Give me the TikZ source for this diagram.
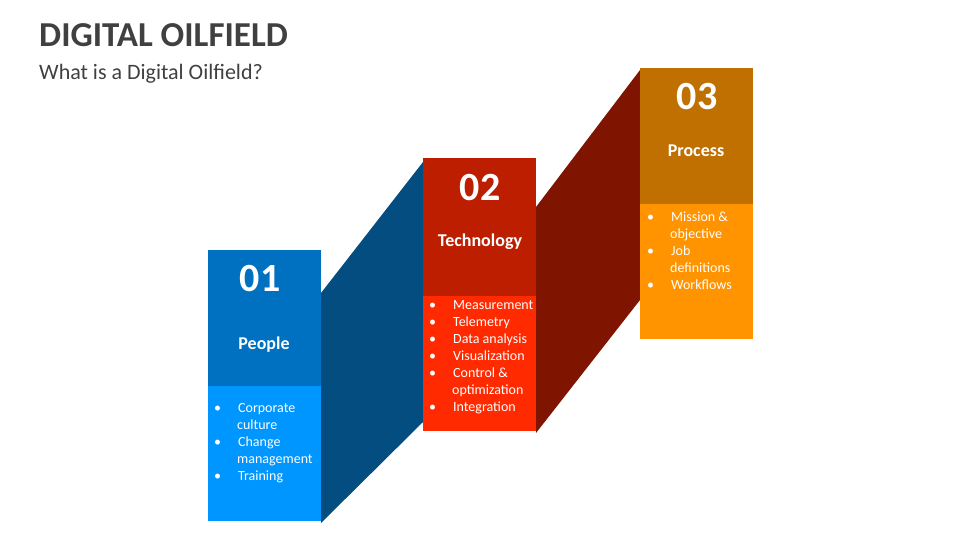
\documentclass[tikz,border=0pt]{standalone}
\usepackage{fontspec}
\setmainfont{Carlito}
\begin{document}
\begin{tikzpicture}[x=1pt,y=-1pt,
  num/.style={text=white,font=\fontsize{40}{40}\selectfont\bfseries},
  lab/.style={text=white,font=\fontsize{18}{18}\selectfont\bfseries},
  bl/.style={text=white,anchor=west,font=\fontsize{14}{17}\selectfont,align=left,inner sep=0pt}]
\useasboundingbox (0,0) rectangle (960,540);
\definecolor{bA}{RGB}{0,112,192}\definecolor{bB}{RGB}{0,150,255}\definecolor{bP}{RGB}{3,77,128}
\definecolor{rA}{RGB}{190,30,0}\definecolor{rB}{RGB}{255,42,0}\definecolor{rP}{RGB}{127,21,0}
\definecolor{oA}{RGB}{191,112,0}\definecolor{oB}{RGB}{255,147,0}
\definecolor{tg}{RGB}{64,64,64}
\node[anchor=west,text=tg,font=\fontsize{35}{35}\selectfont\bfseries,inner sep=0pt] (title) at (39,35) {DIGITAL OILFIELD};
\node[anchor=west,text=tg,font=\fontsize{22}{22}\selectfont,inner sep=0pt] (sub) at (39,74) {What is a Digital Oilfield?};
\fill[bP] (321,293) -- (423,162) -- (423,422) -- (321,523) -- cycle;
\fill[rP] (536,207) -- (640,70) -- (640,300) -- (536,433) -- cycle;
\fill[bA] (208,250) rectangle (321,386);
\fill[bB] (208,386) rectangle (321,521);
\fill[rA] (423,158) rectangle (536,296);
\fill[rB] (423,296) rectangle (536,431);
\fill[oA] (640,68) rectangle (753,204);
\fill[oB] (640,204) rectangle (753,339);
\node[num] (n1) at (260,279) {01};
\node[lab] (l1) at (264,345) {People};
\node[num] (n2) at (480,188) {02};
\node[lab] (l2) at (480,242) {Technology};
\node[num] (n3) at (697,97) {03};
\node[lab] (l3) at (696,151) {Process};
\node[bl] (b1) at (214,443) {\textbullet\hspace{17pt}Corporate\\\hspace{23pt}culture\\\textbullet\hspace{17pt}Change\\\hspace{23pt}management\\\textbullet\hspace{17pt}Training};
\node[bl] (b2) at (429,357) {\textbullet\hspace{17pt}Measurement\\\textbullet\hspace{17pt}Telemetry\\\textbullet\hspace{17pt}Data analysis\\\textbullet\hspace{17pt}Visualization\\\textbullet\hspace{17pt}Control \&\\\hspace{23pt}optimization\\\textbullet\hspace{17pt}Integration};
\node[bl] (b3) at (647,251) {\textbullet\hspace{17pt}Mission \&\\\hspace{23pt}objective\\\textbullet\hspace{17pt}Job\\\hspace{23pt}definitions\\\textbullet\hspace{17pt}Workflows};
\end{tikzpicture}
\end{document}
